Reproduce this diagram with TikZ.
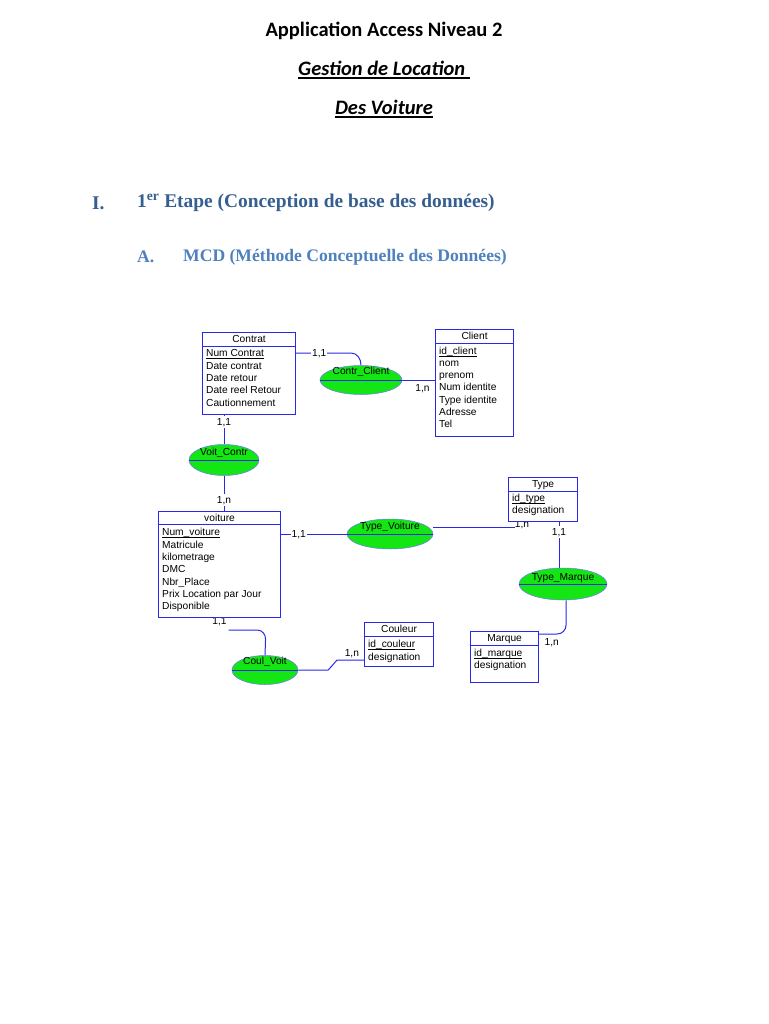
\documentclass[tikz,border=0pt]{standalone}
\usepackage{fontspec}
\setmainfont{Liberation Serif}
\newfontfamily\calfont{Carlito}
\newfontfamily\arialfont{Liberation Sans}
\usetikzlibrary{shapes.geometric,calc}
\definecolor{eblue}{RGB}{40,40,235}
\definecolor{egreen}{RGB}{20,230,20}
\definecolor{hone}{RGB}{54,95,145}
\definecolor{htwo}{RGB}{79,129,189}
\pgfdeclarelayer{bg}
\pgfsetlayers{bg,main}
\newcommand\myul[1]{\setbox0\hbox{#1}\rlap{\rule[-1.6pt]{\wd0}{0.7pt}}\box0}
\newcommand\myulT[1]{\setbox0\hbox{#1}\rlap{\rule[-3pt]{\wd0}{1.3pt}}\box0}
\begin{document}
\begin{tikzpicture}[x=1pt,y=-1pt,
 ent/.style={draw=eblue,fill=white,line width=1.1pt,anchor=north west,inner sep=0pt},
 hdr/.style={draw=eblue,line width=1pt},
 dtext/.style={font=\arialfont\fontsize{10.2}{12}\selectfont,inner sep=0pt,text height=8.6pt,text depth=1.4pt},
 etitle/.style={dtext},
 attr/.style={dtext,anchor=west},
 rel/.style={ellipse,draw=blue!55,fill=egreen,line width=0.5pt,inner sep=0pt},
 rtxt/.style={dtext},
 conn/.style={draw=eblue,line width=1pt},
 card/.style={dtext,fill=white,inner sep=1pt},
 cardn/.style={dtext,inner sep=1pt},
 ttl/.style={font=\calfont\bfseries\fontsize{20.5}{24}\selectfont,inner sep=0pt},
 hA/.style={font=\bfseries\fontsize{19.4}{23}\selectfont,text=hone,anchor=west,inner sep=0pt},
 hB/.style={font=\bfseries\fontsize{17.6}{21}\selectfont,text=htwo,anchor=west,inner sep=0pt},
]
\useasboundingbox (0,0) rectangle (768,1024);
\begin{pgfonlayer}{bg}
\fill[white] (0,0) rectangle (768,1024);
\end{pgfonlayer}

% titles
\node[ttl] (t1) at (384,31) {Application Access Niveau 2};
\node[ttl,font=\calfont\bfseries\itshape\fontsize{20.5}{24}\selectfont] (t2) at (384,70) {\myulT{Gestion de Location\ }};
\node[ttl,font=\calfont\bfseries\itshape\fontsize{20.5}{24}\selectfont] (t3) at (384,109) {\myulT{Des Voiture}};
\node[hA] (h1n) at (92,203) {I.};
\node[hA] (h1) at (137,203) {1\textsuperscript{er} Etape (Conception de base des données)};
\node[hB] (h2n) at (137,257) {A.};
\node[hB] (h2) at (183,257) {MCD (Méthode Conceptuelle des Données)};

% Contrat
\node[ent,minimum width=93pt,minimum height=82pt] (contrat) at (202,332) {};
\draw[hdr] ([yshift=-14pt]contrat.north west) -- ([yshift=-14pt]contrat.north east);
\node[etitle] (contratT) at ([yshift=-7pt]contrat.north) {Contrat};
\node[attr] (ca1) at (206,353) {\myul{Num Contrat}};
\node[attr] (ca2) at (206,366) {Date contrat};
\node[attr] (ca3) at (206,378) {Date retour};
\node[attr] (ca4) at (206,390) {Date reel Retour};
\node[attr] (ca5) at (206,403) {Cautionnement};

% Client
\node[ent,minimum width=78pt,minimum height=107pt] (client) at (435,329) {};
\draw[hdr] ([yshift=-14pt]client.north west) -- ([yshift=-14pt]client.north east);
\node[etitle] (clientT) at ([yshift=-7pt]client.north) {Client};
\node[attr] (cl1) at (439,351) {\myul{id\_client}};
\node[attr] (cl2) at (439,363) {nom};
\node[attr] (cl3) at (439,375) {prenom};
\node[attr] (cl4) at (439,387) {Num identite};
\node[attr] (cl5) at (439,400) {Type identite};
\node[attr] (cl6) at (439,412) {Adresse};
\node[attr] (cl7) at (439,424) {Tel};

% voiture
\node[ent,minimum width=122pt,minimum height=106pt] (voiture) at (158,511) {};
\draw[hdr] ([yshift=-13pt]voiture.north west) -- ([yshift=-13pt]voiture.north east);
\node[etitle] (voitureT) at ([yshift=-6.5pt]voiture.north) {voiture};
\node[attr] (v1) at (162,532) {\myul{Num\_voiture}};
\node[attr] (v2) at (162,545) {Matricule};
\node[attr] (v3) at (162,557) {kilometrage};
\node[attr] (v4) at (162,569) {DMC};
\node[attr] (v5) at (162,582) {Nbr\_Place};
\node[attr] (v6) at (162,594) {Prix Location par Jour};
\node[attr] (v7) at (162,606) {Disponible};

% Type
\node[ent,minimum width=69pt,minimum height=44pt] (type) at (508,477) {};
\draw[hdr] ([yshift=-14pt]type.north west) -- ([yshift=-14pt]type.north east);
\node[etitle] (typeT) at ([yshift=-7pt]type.north) {Type};
\node[attr] (ty1) at (512,498) {\myul{id\_type}};
\node[attr] (ty2) at (512,510) {designation};

% Marque
\node[ent,minimum width=68pt,minimum height=51pt] (marque) at (470,631) {};
\draw[hdr] ([yshift=-14pt]marque.north west) -- ([yshift=-14pt]marque.north east);
\node[etitle] (marqueT) at ([yshift=-7pt]marque.north) {Marque};
\node[attr] (m1) at (474,653) {\myul{id\_marque}};
\node[attr] (m2) at (474,665) {designation};

% Couleur
\node[ent,minimum width=69pt,minimum height=44pt] (couleur) at (364,622) {};
\draw[hdr] ([yshift=-14pt]couleur.north west) -- ([yshift=-14pt]couleur.north east);
\node[etitle] (couleurT) at ([yshift=-7pt]couleur.north) {Couleur};
\node[attr] (cu1) at (368,644) {\myul{id\_couleur}};
\node[attr] (cu2) at (368,657) {designation};

% relations
\node[rel,minimum width=82pt,minimum height=29pt] (cc) at (361,380) {};
\draw[conn] (cc.west) -- (cc.east);
\node[rtxt] (ccT) at ([yshift=9pt]cc.center) {Contr\_Client};

\node[rel,minimum width=70pt,minimum height=31pt] (vc) at (224,460) {};
\draw[conn] (vc.west) -- (vc.east);
\node[rtxt] (vcT) at ([yshift=8pt]vc.center) {Voit\_Contr};

\node[rel,minimum width=86pt,minimum height=30pt] (tv) at (390,534) {};
\draw[conn] (tv.west) -- (tv.east);
\node[rtxt] (tvT) at ([yshift=8pt]tv.center) {Type\_Voiture};

\node[rel,minimum width=88pt,minimum height=32pt] (tm) at (563,584) {};
\draw[conn] (tm.west) -- (tm.east);
\node[rtxt] (tmT) at ([yshift=7pt]tm.center) {Type\_Marque};

\node[rel,minimum width=66pt,minimum height=29pt] (cv) at (265,670) {};
\draw[conn] (cv.west) -- (cv.east);
\node[rtxt] (cvT) at ([yshift=9pt]cv.center) {Coul\_Voit};

% connectors
\coordinate (tmN) at ([xshift=-4pt]tm.north);
\coordinate (tmS) at ([xshift=3pt]tm.south);
\coordinate (mqE) at ([yshift=-3pt]marque.north east);
\coordinate (vB) at ([xshift=9pt,yshift=-12pt]voiture.south);
\coordinate (cuW) at ([yshift=-38pt]couleur.north west);
\coordinate (tvR) at ([yshift=7pt]tv.east);
\begin{pgfonlayer}{bg}
\draw[conn] ([yshift=-21pt]contrat.north east) -- node[card,pos=0.42]{1,1} ++(55,0) to[out=0,in=90] (cc.north);
\draw[conn] (cc.east) -- node[cardn,pos=0.62,below=1pt]{1,n} (cc.east -| client.west);
\draw[conn] (vc.north |- contrat.south) -- node[card,pos=0.24]{1,1} (vc.north);
\draw[conn] (vc.south) -- node[card,pos=0.68]{1,n} (vc.south |- voiture.north);
\draw[conn] (tv.west -| voiture.east) -- node[card,pos=0.27]{1,1} (tv.west);
\draw[conn] (tvR) -- ($(tvR -| type.west)+(7,0)$);
\node[cardn] (tyc) at ([xshift=14pt,yshift=-2pt]type.south west) {1,n};
\draw[conn] (tmN |- type.south) -- node[card,pos=0.21]{1,1} (tmN);
\draw[conn] (tmS) -- ++(0,25) to[out=-90,in=0] ($(mqE)+(18,0)$) -- node[cardn,pos=0.3,below=1pt]{1,n} (mqE);
\node[cardn] (vc1) at ([yshift=-3pt]voiture.south) {1,1};
\draw[conn] (vB) -- ++(29,0) to[out=0,in=90] ++(8,9) -- (cv.north);
\draw[conn] (cv.east) -- ++(30,0) -- ($(cuW)+(-27,0)$) -- node[cardn,pos=0.55,above=1pt]{1,n} (cuW);
\end{pgfonlayer}
\end{tikzpicture}
\end{document}
